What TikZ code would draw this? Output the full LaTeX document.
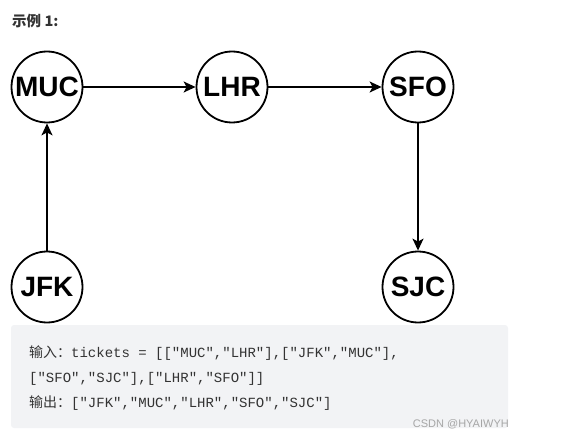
\documentclass[tikz,border=0pt]{standalone}
\usepackage{fontspec}
\setmainfont{Liberation Sans}
\newfontfamily\cjkfont{Noto Sans CJK SC}
\newfontfamily\codefont{Liberation Mono}
\usetikzlibrary{arrows.meta}
\definecolor{codebg}{RGB}{242,243,245}
\definecolor{codetext}{RGB}{51,51,51}
\tikzset{
  airport/.style={circle,draw,line width=1.8pt,minimum size=71pt,inner sep=0pt,
    font=\fontsize{28}{28}\selectfont\bfseries},
  flight/.style={line width=1.6pt,-{Stealth[length=12pt,width=11pt,inset=3pt]}},
  codeline/.style={anchor=base west,inner sep=0pt,text=codetext,
    font=\fontsize{14}{14}\selectfont\codefont}
}
\begin{document}
\begin{tikzpicture}[x=1pt,y=-1pt]
        \useasboundingbox (0,0) rectangle (563,436);
        \node[anchor=base west,inner sep=0pt,text=codetext,font=\fontsize{14.5}{14.5}\selectfont\cjkfont\bfseries] (title) at (12,27) {示例 1:};
        \node[airport] (MUC) at (47,87) {MUC};
        \node[airport] (LHR) at (232,87) {LHR};
        \node[airport] (SFO) at (418,87) {SFO};
        \node[airport] (JFK) at (47,287) {JFK};
        \node[airport] (SJC) at (418,287) {SJC};
        \draw[flight] (JFK) -- (MUC);
        \draw[flight] (MUC) -- (LHR);
        \draw[flight] (LHR) -- (SFO);
        \draw[flight] (SFO) -- (SJC);
        \fill[codebg,rounded corners=3pt] (11,325) rectangle (508,428);
        \node[codeline] (line1) at (29,357) {{\cjkfont 输入：}tickets = [["MUC","LHR"],["JFK","MUC"],};
        \node[codeline] (line2) at (29,382) {["SFO","SJC"],["LHR","SFO"]]};
        \node[codeline] (line3) at (29,407) {{\cjkfont 输出：}["JFK","MUC","LHR","SFO","SJC"]};
        \node[anchor=base east,inner sep=0pt,text=gray!70,font=\fontsize{11}{11}\selectfont] (mark) at (509,427) {CSDN @HYAIWYH};
    \end{tikzpicture}
\end{document}
